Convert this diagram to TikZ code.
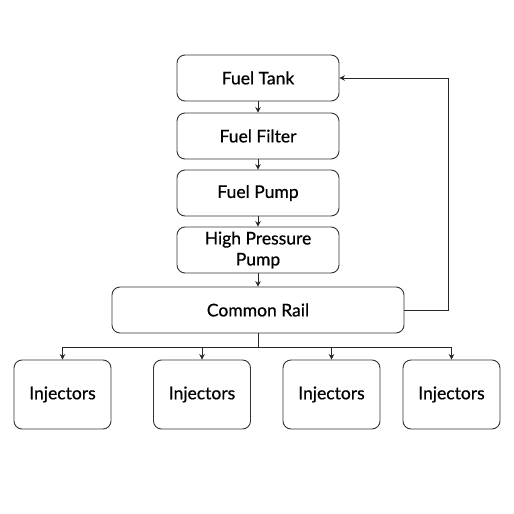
\documentclass[tikz,border=0pt]{standalone}
\usepackage{fontspec}
\setmainfont{Lato}
\newfontfamily\lab[RawFeature={embolden=0.6}]{Lato}
\usetikzlibrary{arrows.meta}
\begin{document}
\begin{tikzpicture}[x=1pt,y=-1pt,
  box/.style={draw=black!80,line width=0.9pt,rounded corners=8pt,align=center,font=\lab\fontsize{17.5}{21}\selectfont,inner sep=0pt},
  arr/.style={draw=black!85,line width=0.9pt,-{Stealth[length=5.5pt,width=5.5pt]}},
  ln/.style={draw=black!85,line width=0.9pt}]
\useasboundingbox (0,0) rectangle (514,514);
\node[box,minimum width=162pt,minimum height=46pt] (tank) at (258,78) {Fuel Tank};
\node[box,minimum width=162pt,minimum height=46pt] (filter) at (258,136) {Fuel Filter};
\node[box,minimum width=162pt,minimum height=46pt] (pump) at (258,193) {Fuel Pump};
\node[box,minimum width=162pt,minimum height=46pt] (hpp) at (258,250) {High Pressure\\Pump};
\node[box,minimum width=292pt,minimum height=46pt] (rail) at (258,310) {Common Rail};
\node[box,minimum width=97pt,minimum height=69pt] (i1) at (62.5,394.5) {Injectors};
\node[box,minimum width=97pt,minimum height=69pt] (i2) at (202,394.5) {Injectors};
\node[box,minimum width=97pt,minimum height=69pt] (i3) at (331.5,394.5) {Injectors};
\node[box,minimum width=97pt,minimum height=69pt] (i4) at (451.5,394.5) {Injectors};
\draw[arr] (tank) -- (filter);
\draw[arr] (filter) -- (pump);
\draw[arr] (pump) -- (hpp);
\draw[arr] (hpp) -- (rail);
\coordinate (br) at (258,347);
\draw[ln] (rail.south) -- (br);
\draw[arr] (br) -| (i1.north);
\draw[arr] (br) -| (i2.north);
\draw[arr] (br) -| (i3.north);
\draw[arr] (br) -| (i4.north);
\draw[arr] (rail.east) -- ++(44,0) |- (tank.east);
\end{tikzpicture}
\end{document}
